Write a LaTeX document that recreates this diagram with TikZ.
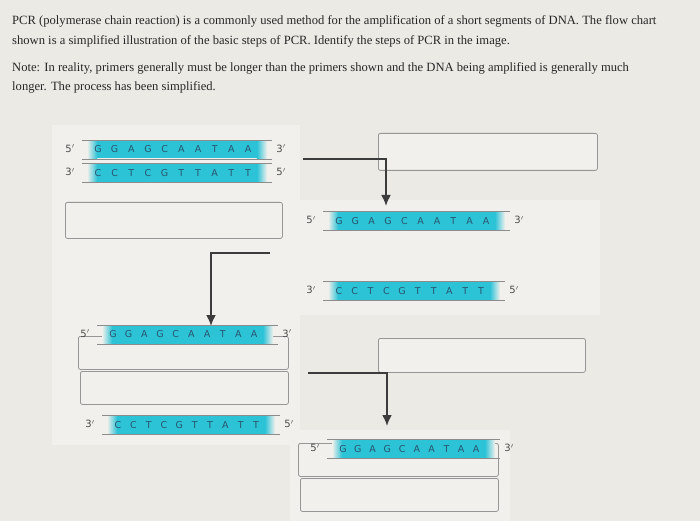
\documentclass[tikz,border=0pt]{standalone}
\usepackage{fontspec}
\setmainfont{Liberation Serif}
\newfontfamily\dnafont{DejaVu Sans}
\definecolor{bg}{RGB}{236,234,229}
\definecolor{panel}{RGB}{241,240,236}
\definecolor{dna}{RGB}{45,195,215}
\definecolor{base}{RGB}{40,85,110}
\definecolor{boxline}{RGB}{150,150,150}
\definecolor{arr}{RGB}{60,60,60}
\tikzset{
  ansbox/.style={draw=boxline,line width=0.8pt,rounded corners=2pt,fill=panel},
  endlab/.style={font=\dnafont\fontsize{10}{11}\selectfont,text=black!70},
  baselab/.style={font=\dnafont\fontsize{9.5}{11}\selectfont,text=base},
  flow/.style={draw=arr,line width=2pt,-{Latex[length=11pt,width=10pt]}},
  strandline/.style={draw=black!45,line width=0.7pt},
  txt/.style={anchor=west,font=\fontsize{12.6}{15}\selectfont,text=black!85,inner sep=0pt}
}
\usetikzlibrary{arrows.meta}
% #1 name, #2 x1, #3 x2, #4 y, #5 sequence, #6 left label, #7 right label
\newcommand\dnastrand[7]{%
  \coordinate (#1) at ({(#2+#3)/2},#4);
  \fill[dna] ({#2+15},{#4-9}) rectangle ({#3-15},{#4+9});
  \shade[left color=panel,right color=dna] ({#2+5},{#4-9}) rectangle ({#2+15.1},{#4+9});
  \shade[left color=dna,right color=panel] ({#3-15.1},{#4-9}) rectangle ({#3-5},{#4+9});
  \draw[strandline] (#2,{#4-9.5}) -- (#3,{#4-9.5});
  \draw[strandline] (#2,{#4+9.5}) -- (#3,{#4+9.5});
  \foreach \c [count=\i] in {#5} {\node[baselab] at ({#2+16+(\i-1)*((#3-#2-40)/9)},#4) {\c};}
  \node[endlab] (#1-l) at ({#2-12},{#4-1}) {#6};
  \node[endlab] (#1-r) at ({#3+9},{#4-1}) {#7};
}
\begin{document}
\begin{tikzpicture}[x=1pt,y=-1pt]
\fill[bg] (0,0) rectangle (700,521);
\useasboundingbox (0,0) rectangle (700,521);
\fill[panel] (52,125) rectangle (300,445);
\fill[panel] (290,200) rectangle (600,315);
\fill[panel] (290,430) rectangle (510,521);
\node[txt] (t1) at (12,21) {PCR (polymerase chain reaction) is a commonly used method for the amplification of a short segments of DNA. The flow chart};
\node[txt] (t2) at (12,41) {shown is a simplified illustration of the basic steps of PCR. Identify the steps of PCR in the image.};
\node[txt] (t3) at (12,68) {Note: In reality, primers generally must be longer than the primers shown and the DNA being amplified is generally much};
\node[txt] (t4) at (12,87) {longer. The process has been simplified.};

\dnastrand{s1}{82}{272}{149.5}{G,G,A,G,C,A,A,T,A,A}{5$'$}{3$'$}
\dnastrand{s2}{82}{272}{173}{C,C,T,C,G,T,T,A,T,T}{3$'$}{5$'$}
\node[ansbox,minimum width=217pt,minimum height=36pt,anchor=north west] (b1) at (65,202) {};
\coordinate (a1s) at (270,253);
\coordinate (a1c) at (211,253);
\coordinate (a1e) at (211,326);
\draw[flow] (a1s) -- (a1c) -- (a1e);

\node[ansbox,minimum width=210pt,minimum height=33pt,anchor=north west] (b2) at (78,336) {};
\node[ansbox,minimum width=208pt,minimum height=33pt,anchor=north west] (b3) at (80,371) {};
\dnastrand{s3}{97}{278}{334.5}{G,G,A,G,C,A,A,T,A,A}{5$'$}{3$'$}
\dnastrand{s4}{102}{280}{425}{C,C,T,C,G,T,T,A,T,T}{3$'$}{5$'$}

\node[ansbox,minimum width=219pt,minimum height=37pt,anchor=north west] (b4) at (378,133) {};
\coordinate (a2s) at (303,159);
\coordinate (a2c) at (386,159);
\coordinate (a2e) at (386,206);
\draw[flow] (a2s) -- (a2c) -- (a2e);
\dnastrand{s5}{323}{510}{221}{G,G,A,G,C,A,A,T,A,A}{5$'$}{3$'$}
\dnastrand{s6}{323}{505}{291}{C,C,T,C,G,T,T,A,T,T}{3$'$}{5$'$}

\node[ansbox,minimum width=207pt,minimum height=34pt,anchor=north west] (b5) at (378,338) {};
\coordinate (a3s) at (308,373);
\coordinate (a3c) at (387,373);
\coordinate (a3e) at (387,426);
\draw[flow] (a3s) -- (a3c) -- (a3e);
\node[ansbox,minimum width=200pt,minimum height=33pt,anchor=north west] (b6) at (298,443) {};
\node[ansbox,minimum width=198pt,minimum height=33pt,anchor=north west] (b7) at (300,478) {};
\dnastrand{s7}{327}{500}{449}{G,G,A,G,C,A,A,T,A,A}{5$'$}{3$'$}
\end{tikzpicture}
\end{document}
